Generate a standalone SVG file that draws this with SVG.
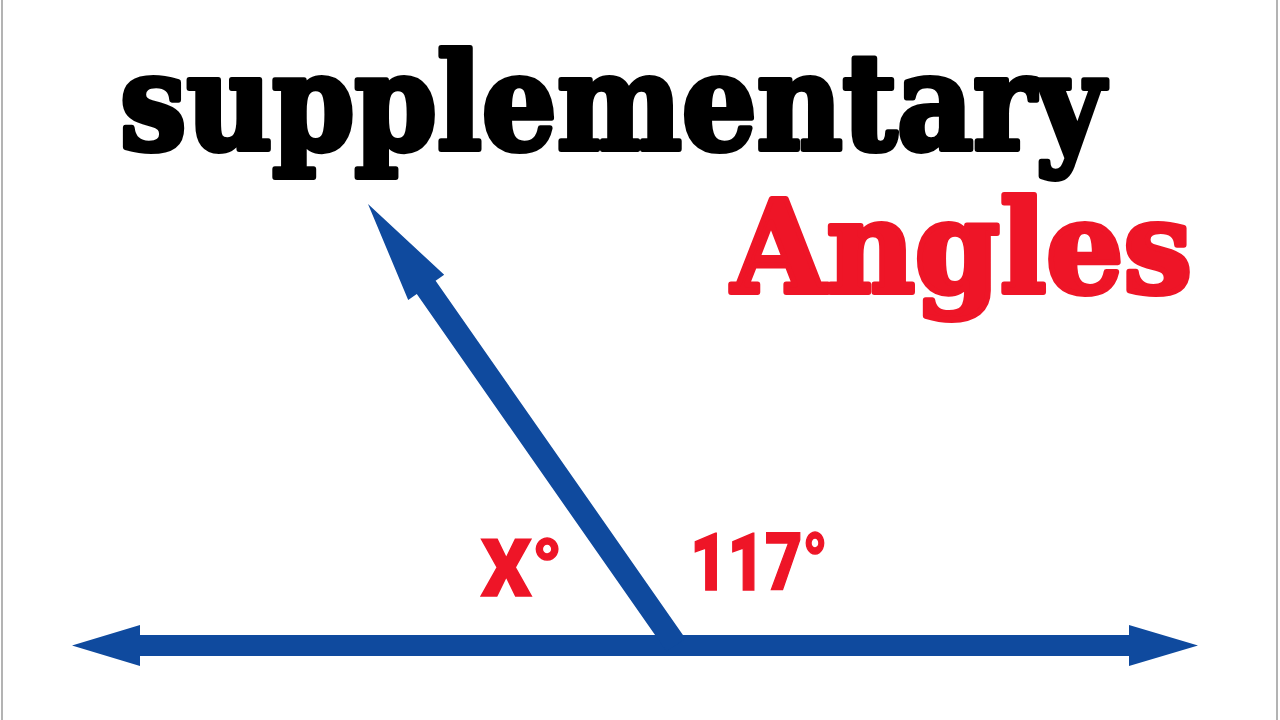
<svg xmlns="http://www.w3.org/2000/svg" width="1280" height="720" viewBox="0 0 1280 720">
  <style>
    .title { font-family: "DejaVu Serif", "Liberation Serif", serif; font-weight: bold; }
    .black { fill: #000000; stroke: #000000; stroke-width: 6; stroke-linejoin: round; }
    .red { fill: #ee1527; stroke: #ee1527; stroke-width: 6; stroke-linejoin: round; }
    .label { font-family: Roboto, "Liberation Sans", sans-serif; font-weight: 900; fill: #ee1527; stroke: #ee1527; stroke-width: 1.5; }
    .blue { fill: #0f4a9e; }
    .border { stroke: #9a9a9a; stroke-width: 1.5; }
  </style>
  <rect x="0" y="0" width="1280" height="720" fill="#ffffff"/>
  <g id="borders">
    <line class="border" x1="2" y1="0" x2="2" y2="720"/>
    <line class="border" x1="1277" y1="0" x2="1277" y2="720"/>
  </g>
  <g id="title">
    <text class="title black" x="120" y="149" font-size="133" textLength="984" lengthAdjust="spacingAndGlyphs">supplementary</text>
    <text class="title red" x="732" y="292" font-size="128" textLength="460" lengthAdjust="spacingAndGlyphs">Angles</text>
  </g>
  <g id="connectors">
    <polygon id="line" class="blue" points="72,645.5 140,625 140,635 1129,635 1129,625 1198,645.5 1129,666 1129,656 140,656 140,666"/>
    <polygon id="ray" class="blue" points="685.4,638.4 435.6,280.8 444.2,274.8 368,204 408.2,300 416.8,294 666.6,651.6"/>
  </g>
  <g id="labels">
    <text id="label-x" class="label" x="481" y="596" font-size="79">X°</text>
    <text id="label-117" class="label" x="690" y="590" font-size="79" textLength="138" lengthAdjust="spacingAndGlyphs">117°</text>
  </g>
</svg>
